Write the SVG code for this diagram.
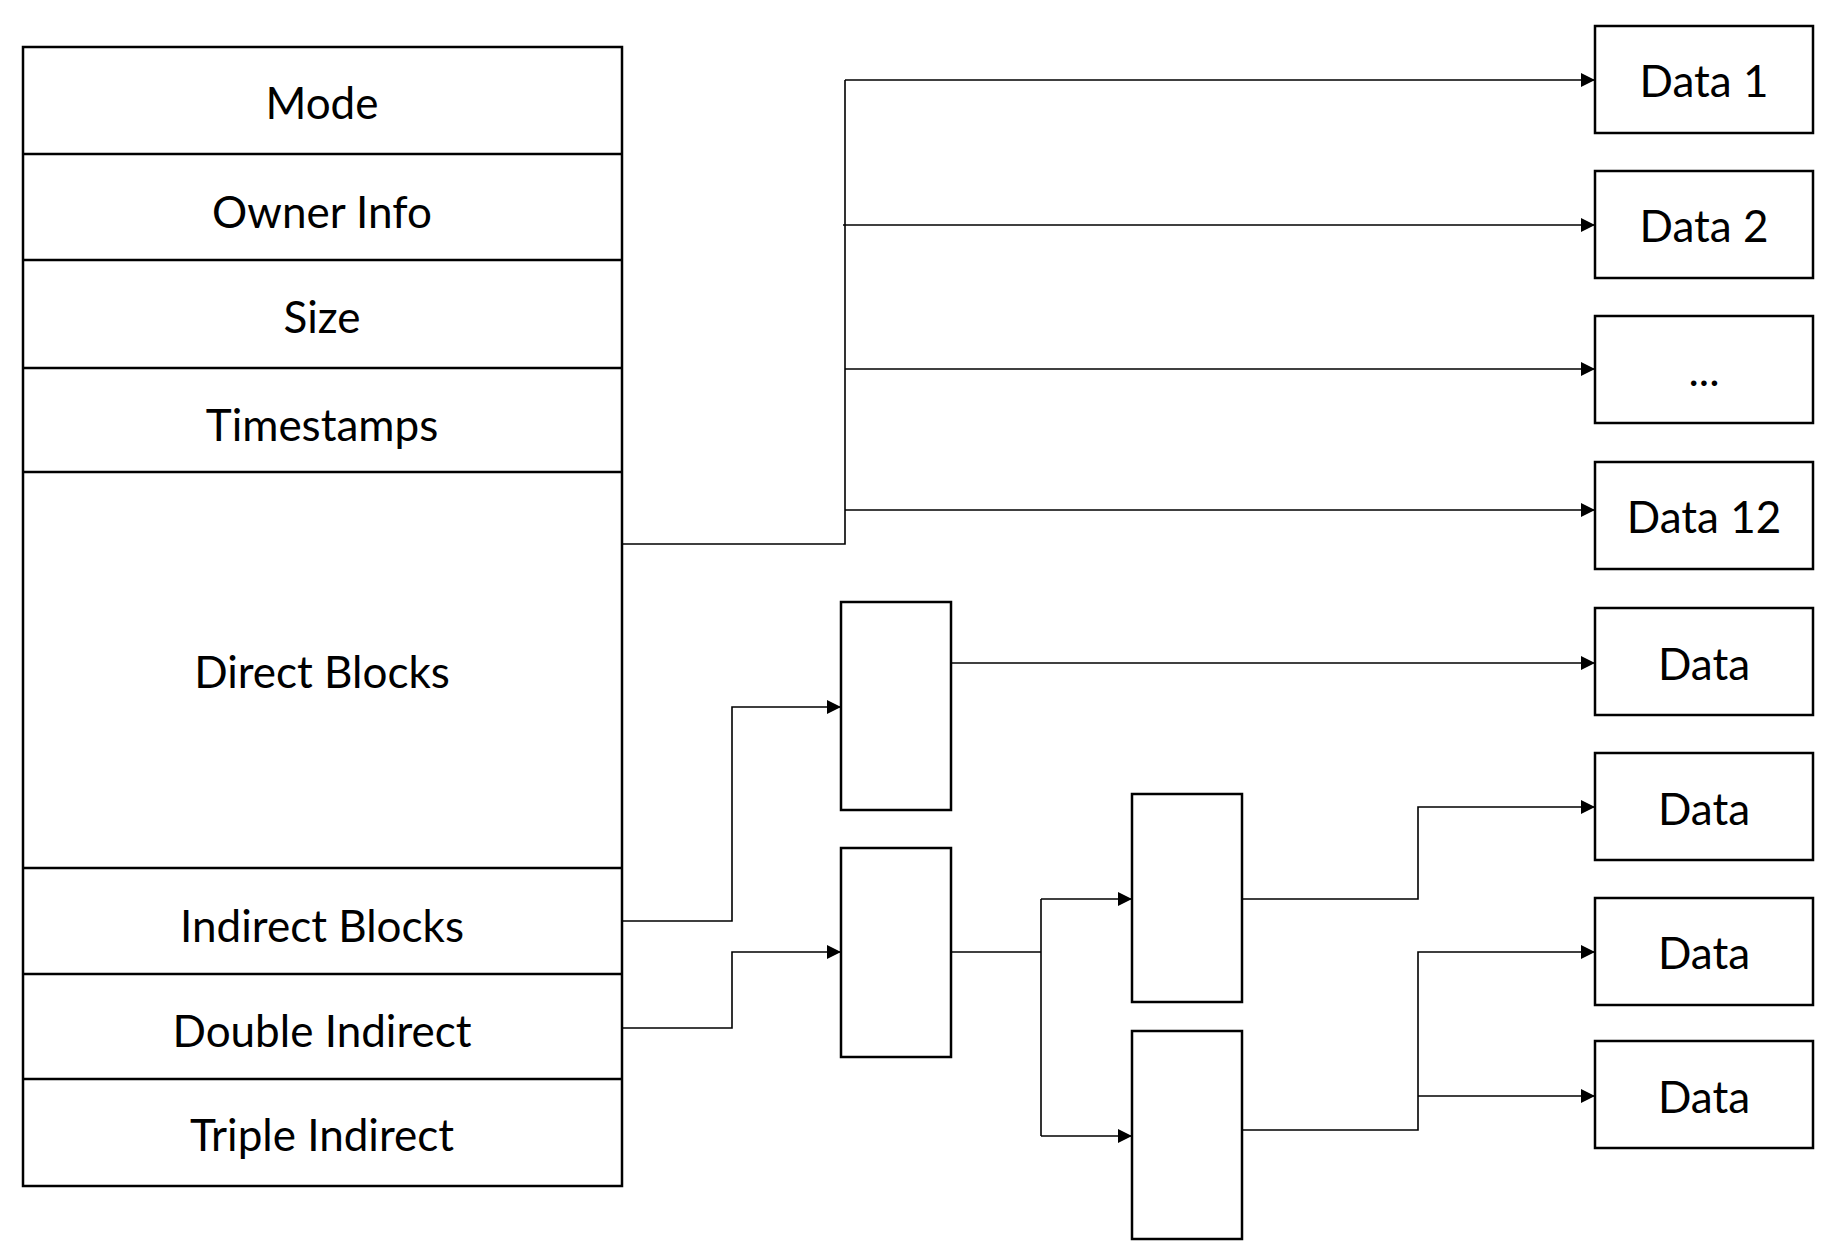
<svg xmlns="http://www.w3.org/2000/svg" width="1838" height="1252" viewBox="0 0 1838 1252">
<style>
.b{fill:#fff;stroke:#000;stroke-width:2.5}
.t{font-family:Lato,"Liberation Sans",sans-serif;font-size:44px;text-anchor:middle;dominant-baseline:central;fill:#000}
.c{fill:none;stroke:#000;stroke-width:1.6}
</style>
<defs><marker id="a" viewBox="0 0 10 10" refX="10" refY="5" markerWidth="14" markerHeight="14" markerUnits="userSpaceOnUse" orient="auto"><path d="M0,0L10,5L0,10z"/></marker></defs>
<rect width="1838" height="1252" fill="#fff"/>
<g id="inode">
<rect class="b" x="23" y="47" width="599" height="1139"/>
<g class="c" style="stroke-width:2.5"><line x1="23" y1="154" x2="622" y2="154"/><line x1="23" y1="260" x2="622" y2="260"/><line x1="23" y1="368" x2="622" y2="368"/><line x1="23" y1="472" x2="622" y2="472"/><line x1="23" y1="868" x2="622" y2="868"/><line x1="23" y1="974" x2="622" y2="974"/><line x1="23" y1="1079" x2="622" y2="1079"/></g>
<text class="t" x="322" y="102">Mode</text>
<text class="t" x="322" y="211">Owner Info</text>
<text class="t" x="322" y="316">Size</text>
<text class="t" x="322" y="424">Timestamps</text>
<text class="t" x="322" y="671">Direct Blocks</text>
<text class="t" x="322" y="925">Indirect Blocks</text>
<text class="t" x="322" y="1030">Double Indirect</text>
<text class="t" x="322" y="1134">Triple Indirect</text>
</g>
<g id="d1"><rect class="b" x="1595" y="26" width="218" height="107"/><text class="t" x="1704" y="80">Data 1</text></g>
<g id="d2"><rect class="b" x="1595" y="171" width="218" height="107"/><text class="t" x="1704" y="225">Data 2</text></g>
<g id="d3"><rect class="b" x="1595" y="316" width="218" height="107"/><text class="t" x="1704" y="369">...</text></g>
<g id="d12"><rect class="b" x="1595" y="462" width="218" height="107"/><text class="t" x="1704" y="516">Data 12</text></g>
<g id="d5"><rect class="b" x="1595" y="608" width="218" height="107"/><text class="t" x="1704" y="663">Data</text></g>
<g id="d6"><rect class="b" x="1595" y="753" width="218" height="107"/><text class="t" x="1704" y="808">Data</text></g>
<g id="d7"><rect class="b" x="1595" y="898" width="218" height="107"/><text class="t" x="1704" y="952">Data</text></g>
<g id="d8"><rect class="b" x="1595" y="1041" width="218" height="107"/><text class="t" x="1704" y="1096">Data</text></g>
<g id="ib1"><rect class="b" x="841" y="602" width="110" height="208"/></g>
<g id="ib2"><rect class="b" x="841" y="848" width="110" height="209"/></g>
<g id="ib3"><rect class="b" x="1132" y="794" width="110" height="208"/></g>
<g id="ib4"><rect class="b" x="1132" y="1031" width="110" height="208"/></g>
<g id="connectors" class="c">
<polyline points="622,544 845,544 845,80"/>
<line x1="845" y1="80" x2="1595" y2="80" marker-end="url(#a)"/>
<line x1="843" y1="225" x2="1595" y2="225" marker-end="url(#a)"/>
<line x1="845" y1="369" x2="1595" y2="369" marker-end="url(#a)"/>
<line x1="845" y1="510" x2="1595" y2="510" marker-end="url(#a)"/>
<polyline points="622,921 732,921 732,707 841,707" marker-end="url(#a)"/>
<line x1="951" y1="663" x2="1595" y2="663" marker-end="url(#a)"/>
<polyline points="622,1028 732,1028 732,952 841,952" marker-end="url(#a)"/>
<polyline points="951,952 1041,952"/>
<polyline points="1041,899 1041,1136"/>
<line x1="1041" y1="899" x2="1132" y2="899" marker-end="url(#a)"/>
<line x1="1041" y1="1136" x2="1132" y2="1136" marker-end="url(#a)"/>
<polyline points="1242,899 1418,899 1418,807 1595,807" marker-end="url(#a)"/>
<polyline points="1242,1130 1418,1130 1418,952 1595,952" marker-end="url(#a)"/>
<line x1="1418" y1="1096" x2="1595" y2="1096" marker-end="url(#a)"/>
</g>
</svg>
